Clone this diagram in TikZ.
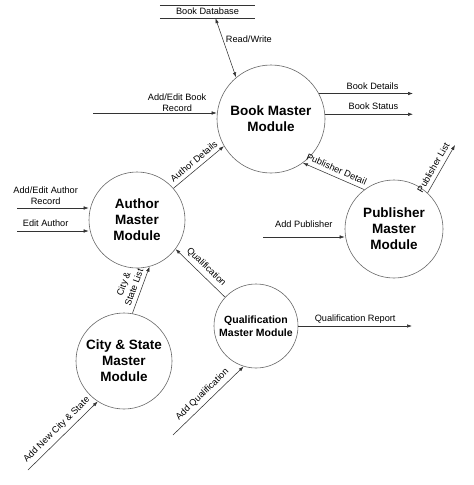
\documentclass[tikz,border=0pt]{standalone}
\usepackage{fontspec}
\setmainfont{Liberation Sans}
\usetikzlibrary{arrows.meta}
\begin{document}
\begin{tikzpicture}[x=1pt, y=-1pt, >={Latex[length=5pt,width=3.5pt]},
  module/.style={circle, draw=black!60, line width=.6pt, align=center, inner sep=0pt, font=\bfseries\fontsize{13.5}{16}\selectfont},
  flow/.style={->, draw=black!80, line width=.55pt},
  lbl/.style={font=\fontsize{9.2}{11}\selectfont, align=center, inner sep=1pt}]
\useasboundingbox (0,0) rectangle (474,485);
% modules
\node[module, minimum size=108] (book) at (271,119) {Book Master\\Module};
\node[module, minimum size=96] (author) at (137,220) {Author\\Master\\Module};
\node[module, minimum size=98] (pub) at (394,229) {Publisher\\Master\\Module};
\node[module, minimum size=96] (city) at (124,361) {City \& State\\Master\\Module};
\node[module, minimum size=84, font=\bfseries\fontsize{10.5}{13}\selectfont] (qual) at (256,326) {Qualification\\Master Module};
% data store
\node[lbl, minimum width=95, minimum height=13] (db) at (207.5,11.5) {Book Database};
\draw[black!80, line width=.55pt] (db.north west)--(db.north east) (db.south west)--(db.south east);
% free ends
\coordinate (abr) at (93,113);
\coordinate (bdt) at (413,95);
\coordinate (bst) at (413,115);
\coordinate (plist) at (455,145);
\coordinate (apub) at (263,237);
\coordinate (aar) at (17,208);
\coordinate (ea) at (17,231);
\coordinate (qrep) at (412,326);
\coordinate (aq) at (173,435);
\coordinate (acs) at (28,470);
% flows
\draw[flow, <->] ([xshift=8]db.south)--(book.130) node[lbl, pos=.35, right=2pt]{Read/Write};
\draw[flow] (abr)--(abr -| book.west) node[lbl, pos=.68, above=0pt]{Add/Edit Book\\Record};
\draw[flow] (book.28)--(book.28 -| bdt) node[lbl, pos=.57, above=3pt]{Book Details};
\draw[flow] (book.5)--(book.5 -| bst) node[lbl, pos=.55, above=3pt]{Book Status};
\draw[flow] (pub.127)--(book.-54) node[lbl, midway, sloped, above=3pt]{Publisher Detail};
\draw[flow] (pub.47)--(plist) node[lbl, pos=.45, sloped, above=3pt]{Publisher List};
\draw[flow] (apub)--(apub -| pub.west) node[lbl, midway, above=8pt]{Add Publisher};
\draw[flow] (author.41)--(book.-150) node[lbl, midway, sloped, above=3pt]{Author Details};
\draw[flow] (aar)--(aar -| author.west) node[lbl, pos=.4, above=2pt]{Add/Edit Author\\Record};
\draw[flow] (ea)--(ea -| author.west) node[lbl, pos=.4, above=3pt]{Edit Author};
\draw[flow] (qual.137)--(author.-37) node[lbl, midway, sloped, above=3pt]{Qualification};
\draw[flow] (city.80)--(author.-75) node[lbl, midway, sloped, above=3pt]{City \&\\State List};
\draw[flow] (qual.east)--(qrep) node[lbl, midway, above=1pt]{Qualification Report};
\draw[flow] (aq)--(qual.-107) node[lbl, midway, sloped, above=3pt]{Add Qualification};
\draw[flow] (acs)--(city.-123) node[lbl, midway, sloped, above=3pt]{Add New City \& State};
\end{tikzpicture}
\end{document}
